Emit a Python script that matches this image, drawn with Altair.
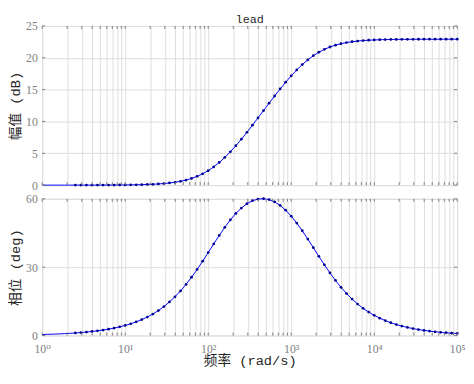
import altair as alt
import pandas as pd

# frequency samples (rad/s), log spaced
freq = [1.000, 1.166, 1.359, 1.585, 1.848, 2.154, 2.512, 2.929, 3.415, 3.981, 4.642, 5.412, 6.310, 7.356, 8.577,
        10.00, 11.66, 13.59, 15.85, 18.48, 21.54, 25.12, 29.29, 34.15, 39.81, 46.42, 54.12, 63.10, 73.56, 85.77,
        100.0, 116.6, 135.9, 158.5, 184.8, 215.4, 251.2, 292.9, 341.5, 398.1, 464.2, 541.2, 631.0, 735.6, 857.7,
        1000, 1166, 1359, 1585, 1848, 2154, 2512, 2929, 3415, 3981, 4642, 5412, 6310, 7356, 8577,
        10000, 11660, 13590, 15850, 18480, 21540, 25120, 29290, 34150, 39810, 46420, 54120, 63100, 73560, 85770,
        100000]

# magnitude (dB)
mag_db = [0.000, 0.000, 0.001, 0.001, 0.001, 0.001, 0.002, 0.003, 0.003, 0.005, 0.006, 0.009, 0.012, 0.016, 0.022,
          0.030, 0.041, 0.055, 0.075, 0.101, 0.137, 0.185, 0.250, 0.336, 0.451, 0.602, 0.800, 1.054, 1.377, 1.781,
          2.275, 2.866, 3.557, 4.346, 5.226, 6.186, 7.213, 8.294, 9.413, 10.557, 11.711, 12.863, 13.998, 15.102, 16.161,
          17.161, 18.088, 18.930, 19.677, 20.324, 20.873, 21.327, 21.695, 21.987, 22.215, 22.391, 22.525, 22.627, 22.703, 22.760,
          22.802, 22.834, 22.857, 22.874, 22.887, 22.896, 22.903, 22.908, 22.912, 22.915, 22.917, 22.918, 22.920, 22.920, 22.921,
          22.921]

# phase (deg)
phase_deg = [0.44, 0.52, 0.60, 0.70, 0.82, 0.96, 1.11, 1.30, 1.51, 1.77, 2.06, 2.40, 2.80, 3.26, 3.80,
             4.42, 5.15, 6.00, 6.98, 8.12, 9.44, 10.97, 12.72, 14.72, 17.00, 19.56, 22.43, 25.59, 29.00, 32.63,
             36.40, 40.20, 43.94, 47.48, 50.72, 53.57, 55.96, 57.83, 59.15, 59.90, 60.06, 59.64, 58.65, 57.09, 54.99,
             52.39, 49.36, 45.98, 42.34, 38.56, 34.76, 31.04, 27.49, 24.19, 21.15, 18.42, 15.98, 13.82, 11.93, 10.28,
             8.85, 7.61, 6.54, 5.62, 4.82, 4.14, 3.55, 3.05, 2.62, 2.24, 1.93, 1.65, 1.42, 1.22, 1.04,
             0.89]

marker_start = 2.5
chart_title = ["lead"]

decades = [1, 10, 100, 1000, 10000]
grid_x = [m * d for d in decades for m in range(1, 10)] + [100000]
mag_ticks = [0, 5, 10, 15, 20, 25]
phase_ticks = [0, 30, 60]

df = pd.DataFrame({"w": freq, "mag": mag_db, "phase": phase_deg})
xt = pd.DataFrame({"w": grid_x})

W = 425
H1 = 163
H2 = 140
TL = 3

FONT = "Liberation Mono, Noto Sans CJK SC"
NUMFONT = "Liberation Serif, DejaVu Serif"
TICKC = "#7a7a7a"
LABELC = "#808080"
TITLEC = "#262626"

xscale = alt.Scale(type="log", domain=[1, 100000], nice=False)

label_expr = ("indexof([1,10,100,1000,10000,100000], datum.value) >= 0 ? "
              "'10' + ['⁰','¹','²','³','⁴','⁵'][indexof([1,10,100,1000,10000,100000], datum.value)] : ''")


def panel(field, domain, yticks, ytitle, height, show_x):
    yscale = alt.Scale(domain=domain, nice=False, zero=False)
    if show_x:
        xaxis = alt.Axis(values=grid_x, grid=True, ticks=False, domain=False,
                         labelExpr=label_expr, labelFont=NUMFONT, labelFontSize=12,
                         labelColor=LABELC, labelPadding=8, labelOverlap=False,
                         labelFlush=False, title="频率  (rad/s)", titleFont=FONT,
                         titleFontSize=14, titleFontWeight="normal", titleColor=TITLEC,
                         titlePadding=0)
    else:
        xaxis = alt.Axis(values=grid_x, grid=True, ticks=False, domain=False,
                         labels=False, title=None)
    yaxis = alt.Axis(values=yticks, grid=True, ticks=False, domain=False,
                     labelFont=NUMFONT, labelFontSize=12, labelColor=LABELC,
                     labelPadding=5, title=ytitle, titleFont=FONT, titleFontSize=14,
                     titleFontWeight="normal", titleColor=TITLEC, titlePadding=3)

    X = alt.X("w:Q", scale=xscale, axis=xaxis)
    Y = alt.Y(f"{field}:Q", scale=yscale, axis=yaxis)

    line = alt.Chart(df).mark_line(color="#0000ff", strokeWidth=1).encode(x=X, y=Y)
    pts = alt.Chart(df).transform_filter(alt.datum.w >= marker_start).mark_circle(
        size=8, color="#00008f", opacity=1
    ).encode(x=X, y=Y)
    xtop = alt.Chart(xt).mark_rule(color=TICKC, strokeWidth=1).encode(
        x=X, y=alt.value(0), y2=alt.value(TL)
    )
    xbot = alt.Chart(xt).mark_rule(color=TICKC, strokeWidth=1).encode(
        x=X, y=alt.value(height), y2=alt.value(height - TL)
    )
    yt = pd.DataFrame({field: yticks})
    yl = alt.Chart(yt).mark_rule(color=TICKC, strokeWidth=1).encode(
        y=Y, x=alt.value(0), x2=alt.value(TL)
    )
    yr = alt.Chart(yt).mark_rule(color=TICKC, strokeWidth=1).encode(
        y=Y, x=alt.value(W), x2=alt.value(W - TL)
    )
    return [line, pts, xtop, xbot, yl, yr]


top_layers = panel("mag", [0, 25], mag_ticks, "幅值 (dB)", H1, False)
title_txt = alt.Chart(pd.DataFrame({"t": chart_title})).mark_text(
    font="Liberation Mono", fontSize=12, color=TITLEC, align="center", baseline="alphabetic"
).encode(text="t:N", x=alt.value(W / 2), y=alt.value(-3))
top = alt.layer(*top_layers, title_txt).properties(width=W, height=H1)

bottom = alt.layer(*panel("phase", [0, 60], phase_ticks, "相位 (deg)", H2, True)).properties(
    width=W, height=H2
)

chart = alt.vconcat(top, bottom, spacing=0).properties(padding=0).configure_view(
    stroke="#a0a0a0", strokeWidth=1
).configure_axis(
    gridColor="#ececec", gridWidth=1
).configure(background="white")

chart.save("out.html", embed_options={"renderer": "svg", "actions": False})
